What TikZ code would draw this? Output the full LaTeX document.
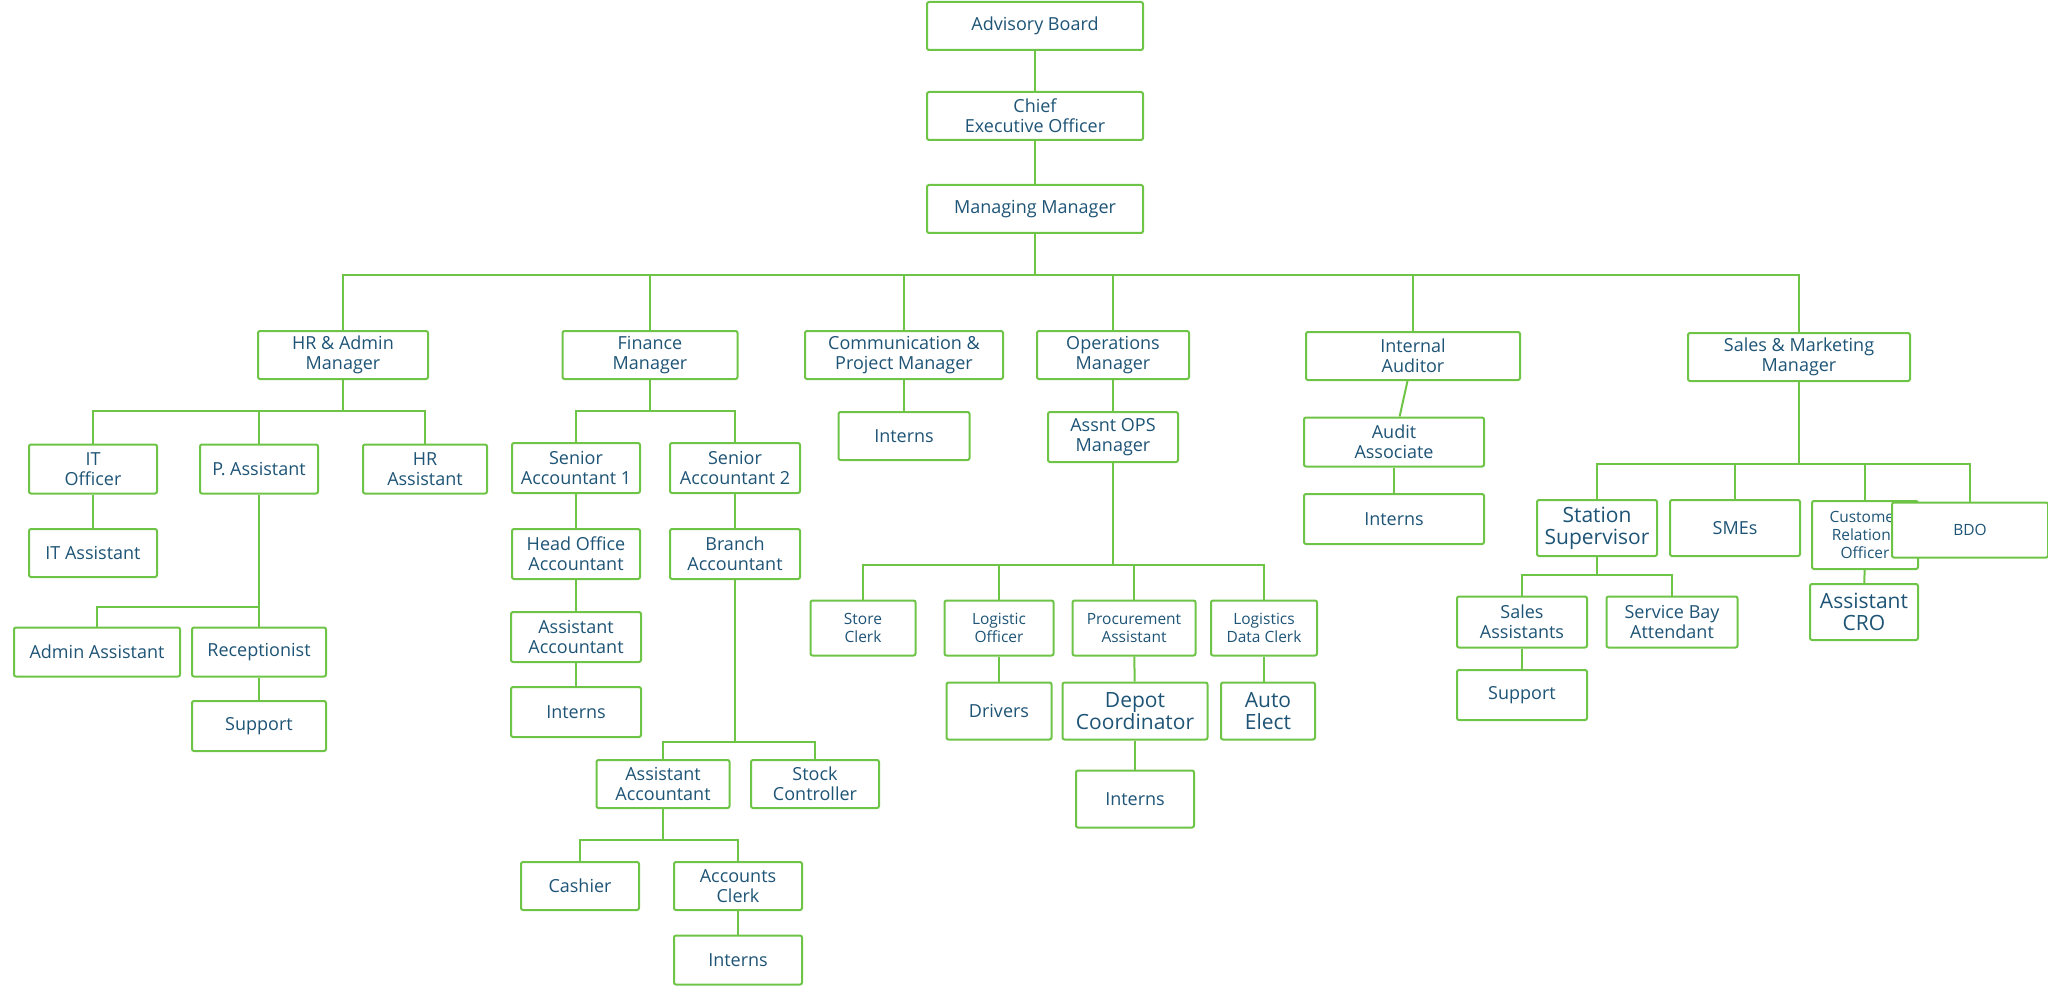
\documentclass[tikz,border=0pt]{standalone}
\usepackage{fontspec}
\setmainfont{Open Sans}
\usetikzlibrary{positioning}
\definecolor{orgline}{RGB}{110,196,70}
\definecolor{orgtext}{RGB}{30,84,118}
\tikzset{
  box/.style={draw=orgline, line width=2pt, rounded corners=2pt, fill=white,
    text=orgtext, align=center, font=\fontsize{18}{20}\selectfont, inner sep=1pt},
  small/.style={font=\fontsize{15.5}{18}\selectfont},
  big/.style={font=\fontsize{21}{22}\selectfont},
  link/.style={draw=orgline, line width=2pt}
}
% parent, child, bus height
\newcommand{\orglink}[3]{\draw[link] (#1.south) -- (#1.south |- 0,#3) -| (#2.north);}
\begin{document}
\begin{tikzpicture}[x=1pt,y=-1pt]
\useasboundingbox (0,0) rectangle (2048,987);

%top
\node[box, minimum width=216, minimum height=48] (ab) at (1035,26) {Advisory Board};
\node[box, minimum width=216, minimum height=48] (ceo) at (1035,116) {Chief\\Executive Officer};
\node[box, minimum width=216, minimum height=48] (mm) at (1035,209) {Managing Manager};

%managers
\node[box, minimum width=170, minimum height=48] (hr) at (343,355) {HR \& Admin\\Manager};
\node[box, minimum width=175, minimum height=48] (fin) at (650,355) {Finance\\Manager};
\node[box, minimum width=198, minimum height=48] (com) at (904,355) {Communication \&\\Project Manager};
\node[box, minimum width=152, minimum height=48] (ops) at (1113,355) {Operations\\Manager};
\node[box, minimum width=214, minimum height=48] (aud) at (1413,356) {Internal\\Auditor};
\node[box, minimum width=222, minimum height=48] (sal) at (1799,357) {Sales \& Marketing\\Manager};

%HR
\node[box, minimum width=128, minimum height=49] (ito) at (93,469) {IT\\Officer};
\node[box, minimum width=118, minimum height=49] (pa) at (259,469) {P. Assistant};
\node[box, minimum width=124, minimum height=49] (hra) at (425,469) {HR\\Assistant};
\node[box, minimum width=128, minimum height=48] (ita) at (93,553) {IT Assistant};
\node[box, minimum width=166, minimum height=49] (adm) at (97,652) {Admin Assistant};
\node[box, minimum width=134, minimum height=49] (rec) at (259,652) {Receptionist};
\node[box, minimum width=134, minimum height=50] (sup1) at (259,726) {Support};

%finance
\node[box, minimum width=128, minimum height=50] (sa1) at (576,468) {Senior\\Accountant 1};
\node[box, minimum width=130, minimum height=50] (sa2) at (735,468) {Senior\\Accountant 2};
\node[box, minimum width=128, minimum height=50] (hoa) at (576,554) {Head Office\\Accountant};
\node[box, minimum width=130, minimum height=50] (ba) at (735,554) {Branch\\Accountant};
\node[box, minimum width=130, minimum height=50] (aa1) at (576,637) {Assistant\\Accountant};
\node[box, minimum width=130, minimum height=50] (int1) at (576,712) {Interns};
\node[box, minimum width=133, minimum height=48] (aa2) at (663,784) {Assistant\\Accountant};
\node[box, minimum width=128, minimum height=48] (stc) at (815,784) {Stock\\Controller};
\node[box, minimum width=118, minimum height=48] (cas) at (580,886) {Cashier};
\node[box, minimum width=128, minimum height=48] (acl) at (738,886) {Accounts\\Clerk};
\node[box, minimum width=128, minimum height=49] (int2) at (738,960) {Interns};

%communication
\node[box, minimum width=131, minimum height=48] (int3) at (904,436) {Interns};

%operations
\node[box, minimum width=130, minimum height=50] (aom) at (1113,437) {Assnt OPS\\Manager};
\node[box, small, minimum width=105, minimum height=55] (scl) at (863,628) {Store\\Clerk};
\node[box, small, minimum width=109, minimum height=55] (lgo) at (999,628) {Logistic\\Officer};
\node[box, small, minimum width=123, minimum height=55] (pra) at (1134,628) {Procurement\\Assistant};
\node[box, small, minimum width=106, minimum height=55] (ldc) at (1264,628) {Logistics\\Data Clerk};
\node[box, minimum width=105, minimum height=57] (drv) at (999,711) {Drivers};
\node[box, big, minimum width=145, minimum height=57] (dep) at (1135,711) {Depot\\Coordinator};
\node[box, big, minimum width=94, minimum height=57] (aue) at (1268,711) {Auto\\Elect};
\node[box, minimum width=118, minimum height=57] (int4) at (1135,799) {Interns};

%audit
\node[box, minimum width=180, minimum height=49] (asc) at (1394,442) {Audit\\Associate};
\node[box, minimum width=180, minimum height=50] (int5) at (1394,519) {Interns};

%sales
\node[box, big, minimum width=120, minimum height=56] (ssv) at (1597,528) {Station\\Supervisor};
\node[box, minimum width=130, minimum height=56] (sme) at (1735,528) {SMEs};
\node[box, small, minimum width=106, minimum height=68] (cro) at (1865,535) {Customer\\Relations\\Officer};
\node[box, small, minimum width=156, minimum height=55] (bdo) at (1970,530) {BDO};
\node[box, minimum width=130, minimum height=51] (sas) at (1522,622) {Sales\\Assistants};
\node[box, minimum width=131, minimum height=51] (sba) at (1672,622) {Service Bay\\Attendant};
\node[box, minimum width=130, minimum height=50] (sup2) at (1522,695) {Support};
\node[box, big, minimum width=108, minimum height=56] (acro) at (1864,612) {Assistant\\CRO};

%connectors
\draw[link] (ab) -- (ceo);
\draw[link] (ceo) -- (mm);
\foreach \c in {hr,fin,com,ops,aud,sal} {\orglink{mm}{\c}{275}}
\foreach \c in {ito,pa,hra} {\orglink{hr}{\c}{411}}
\draw[link] (ito) -- (ita);
\foreach \c in {adm,rec} {\orglink{pa}{\c}{607}}
\draw[link] (rec) -- (sup1);
\foreach \c in {sa1,sa2} {\orglink{fin}{\c}{411}}
\draw[link] (sa1) -- (hoa);
\draw[link] (hoa) -- (aa1);
\draw[link] (aa1) -- (int1);
\draw[link] (sa2) -- (ba);
\foreach \c in {aa2,stc} {\orglink{ba}{\c}{742}}
\foreach \c in {cas,acl} {\orglink{aa2}{\c}{840}}
\draw[link] (acl) -- (int2);
\draw[link] (com) -- (int3);
\draw[link] (ops) -- (aom);
\foreach \c in {scl,lgo,pra,ldc} {\orglink{aom}{\c}{565}}
\draw[link] (lgo) -- (drv);
\draw[link] (pra) -- (dep);
\draw[link] (ldc.south) -- (ldc.south |- aue.north);
\draw[link] (dep) -- (int4);
\draw[link] (aud) -- (asc);
\draw[link] (asc) -- (int5);
\foreach \c in {ssv,sme,cro,bdo} {\orglink{sal}{\c}{464}}
\foreach \c in {sas,sba} {\orglink{ssv}{\c}{575}}
\draw[link] (sas) -- (sup2);
\draw[link] (cro) -- (acro);
\end{tikzpicture}
\end{document}
